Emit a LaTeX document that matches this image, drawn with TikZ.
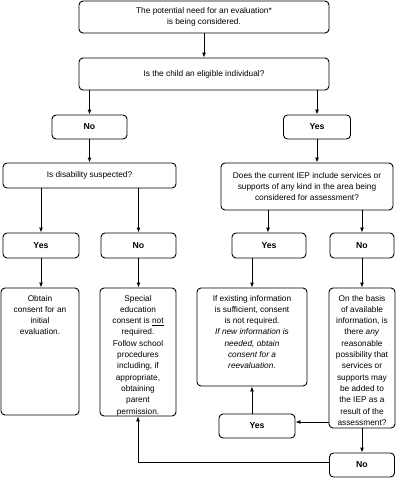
\documentclass[tikz,border=0pt]{standalone}
\usepackage{fontspec}
\setmainfont{Liberation Sans}
\usetikzlibrary{arrows.meta}
\newcommand{\topbx}[3]{\parbox[c][#1][t]{#2}{\centering #3}}
\begin{document}
\begin{tikzpicture}[x=1pt,y=-1pt,
  box/.style={draw, rounded corners=4pt, line width=0.9pt, align=center, inner sep=0pt,
    font=\fontsize{8.3}{11.3}\selectfont},
  lab/.style={box, font=\fontsize{8.7}{10}\selectfont\bfseries},
  arr/.style={line width=0.9pt, -{Latex[length=5pt,width=4pt]}},
  ln/.style={line width=0.9pt}]
\useasboundingbox (0,0) rectangle (406,480);
\node[box, minimum width=250pt, minimum height=32pt] (start) at (204,17)
  {The potential need for an evaluation*\\is being considered.};
\node[box, minimum width=250pt, minimum height=32pt] (elig) at (204,74)
  {Is the child an eligible individual?};
\node[lab, minimum width=75pt, minimum height=24pt] (no1) at (89.5,127) {No};
\node[lab, minimum width=67pt, minimum height=24pt] (yes1) at (317,127) {Yes};
\node[box, minimum width=173pt, minimum height=25pt] (dis) at (89.5,175.5)
  {Is disability suspected?};
\node[box, minimum width=172pt, minimum height=47pt] (iep) at (307,186.5)
  {Does the current IEP include services or\\supports of any kind in the area being\\considered for assessment?};
\node[lab, minimum width=76pt, minimum height=25pt] (yesL) at (41,245.5) {Yes};
\node[lab, minimum width=75pt, minimum height=25pt] (noL) at (138.5,245.5) {No};
\node[lab, minimum width=74pt, minimum height=25pt] (yesR) at (269,245.5) {Yes};
\node[lab, minimum width=64pt, minimum height=25pt] (noR) at (362,245.5) {No};
\node[box, minimum width=78pt, minimum height=127pt] (obtain) at (40,351.5)
  {\topbx{113pt}{76pt}{Obtain\\consent for an\\initial\\evaluation.}};
\node[box, minimum width=76pt, minimum height=128pt] (special) at (138,352)
  {\topbx{114pt}{74pt}{Special\\education\\consent is \underline{not}\\required.\\Follow school\\procedures\\including, if\\appropriate,\\obtaining\\parent\\permission.}};
\node[box, minimum width=110pt, minimum height=98pt] (ifex) at (252,337)
  {\topbx{84pt}{108pt}{If existing information\\is sufficient, consent\\is not required.\\\textit{If new information is}\\\textit{needed, obtain}\\\textit{consent for a}\\\textit{reevaluation}.}};
\node[box, minimum width=66pt, minimum height=140pt] (basis) at (362,358)
  {\topbx{126pt}{64pt}{On the basis\\of available\\information, is\\there \textit{any}\\reasonable\\possibility that\\services or\\supports may\\be added to\\the IEP as a\\result of the\\assessment?}};
\node[lab, minimum width=76pt, minimum height=24pt] (yesB) at (257,426) {Yes};
\node[lab, minimum width=65pt, minimum height=24pt] (noB) at (362,465) {No};
\coordinate (bend) at (138,462);
\draw[arr] (start) -- (elig);
\draw[arr] (elig.south -| no1) -- (no1);
\draw[arr] (elig.south -| yes1) -- (yes1);
\draw[arr] (no1) -- (dis.north -| no1);
\draw[arr] (yes1) -- (iep.north -| yes1);
\draw[arr] (dis.south -| yesL) -- (yesL);
\draw[arr] (dis.south -| noL) -- (noL);
\draw[arr] (iep.south -| 268,0) -- (yesR.north -| 268,0);
\draw[arr] (iep.south -| noR) -- (noR);
\draw[arr] (yesL) -- (obtain.north -| yesL);
\draw[arr] (noL) -- (special.north -| noL);
\draw[arr] (yesR.south -| ifex) -- (ifex);
\draw[arr] (noR) -- (basis);
\draw[arr] (basis) -- (noB);
\draw[arr] (basis.west |- 0,422) -- (yesB.east |- 0,422);
\draw[arr] (yesB.north -| ifex) -- (ifex);
\draw[arr] (noB.west |- bend) -- (bend) -- (special);
\end{tikzpicture}
\end{document}
